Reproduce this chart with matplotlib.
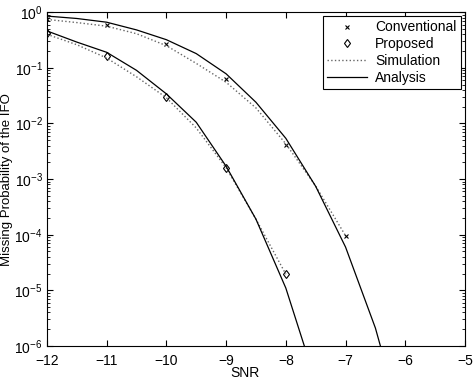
import numpy as np
import matplotlib.pyplot as plt

plt.rcParams['font.family'] = ['Liberation Sans', 'DejaVu Sans']
plt.rcParams['mathtext.default'] = 'regular'

# analysis curves (solid)
snr_ana = [-12, -11.5, -11, -10.5, -10, -9.5, -9, -8.5, -8, -7.5, -7, -6.5, -6]
conv_ana = [0.85, 0.77, 0.66, 0.48, 0.32, 0.18, 0.078, 0.024, 0.0054, 7.4e-4, 6.0e-5, 2.1e-6, 2.5e-8]
snr_ana_p = [-12, -11.5, -11, -10.5, -10, -9.5, -9, -8.5, -8, -7.5]
prop_ana = [0.46, 0.29, 0.19, 0.09, 0.034, 0.0105, 0.0017, 1.9e-4, 1.1e-5, 2.3e-7]

# simulation curves (dotted)
snr_sim = [-12, -11.5, -11, -10.5, -10, -9.5, -9, -8.5, -8, -7.5, -7]
conv_sim = [0.74, 0.65, 0.56, 0.41, 0.25, 0.12, 0.055, 0.019, 0.0043, 7.5e-4, 9.6e-5]
snr_sim_p = [-12, -11.5, -11, -10.5, -10, -9.5, -9, -8.5, -8]
prop_sim = [0.40, 0.26, 0.15, 0.069, 0.029, 0.0083, 0.0016, 1.9e-4, 1.95e-5]

# simulation markers
snr_conv_pts = [-12, -11, -10, -9, -8, -7]
conv_pts = [0.75, 0.58, 0.27, 0.063, 0.0041, 9.6e-5]
snr_prop_pts = [-12, -11, -10, -9, -8]
prop_pts = [0.43, 0.165, 0.030, 0.00156, 1.95e-5]

fig = plt.figure(figsize=(4.74, 3.8), dpi=100)
ax = fig.add_axes([0.099, 0.0895, 0.882, 0.8785])

ax.semilogy(snr_conv_pts, conv_pts, 'x', color='k', markersize=3.5, markeredgewidth=0.8, label='Conventional')
ax.semilogy(snr_prop_pts, prop_pts, 'd', color='k', markerfacecolor='none', markersize=4.5, markeredgewidth=0.8, label='Proposed')
ax.semilogy(snr_sim, conv_sim, ':', color='#666666', linewidth=1.0, label='Simulation')
ax.semilogy(snr_ana, conv_ana, '-', color='k', linewidth=0.9, label='Analysis')
ax.semilogy(snr_sim_p, prop_sim, ':', color='#666666', linewidth=1.0)
ax.semilogy(snr_ana_p, prop_ana, '-', color='k', linewidth=0.9)

ax.set_xlim(-12, -5)
ax.set_ylim(1e-6, 1)
ax.set_xticks(range(-12, -4))
ax.set_xticklabels(['\u221212', '\u221211', '\u221210', '\u22129', '\u22128', '\u22127', '\u22126', '\u22125'])
ax.tick_params(which='both', direction='in', top=True, right=True, labelsize=10)
ax.tick_params(axis='x', which='major', length=4, pad=6)
ax.tick_params(axis='y', which='major', length=4, pad=3)
ax.tick_params(which='minor', length=2)
for s in ax.spines.values():
    s.set_linewidth(0.8)

ax.set_xlabel('SNR', fontsize=10)
ax.xaxis.set_label_coords(0.474, -0.06)
ax.set_ylabel('Missing Probability of the IFO', fontsize=9.5)
ax.yaxis.set_label_coords(-0.08, 0.5)

leg = ax.legend(loc='upper right', fontsize=10, fancybox=False, framealpha=1,
                edgecolor='k', borderaxespad=0.3, handlelength=2.9,
                handletextpad=0.6, borderpad=0.3, labelspacing=0.2)
leg.get_frame().set_linewidth(0.8)

plt.savefig('out.png', dpi=100)
